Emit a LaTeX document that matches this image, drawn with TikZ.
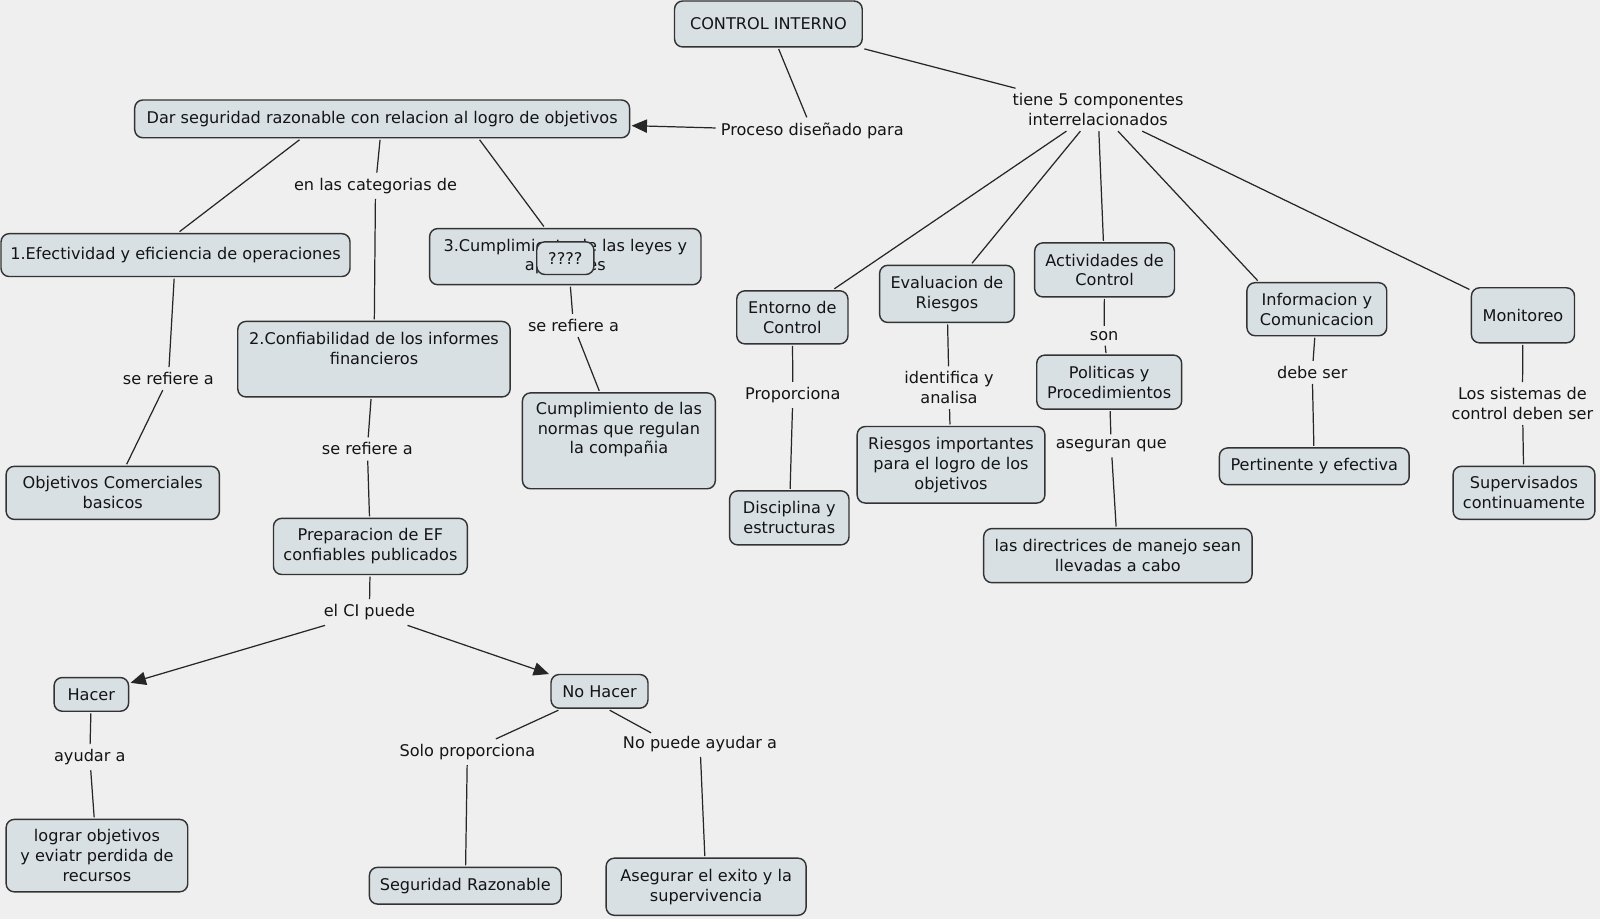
\documentclass[tikz,border=0pt]{standalone}
\usepackage{fontspec}
\setmainfont{DejaVu Sans}
\usetikzlibrary{arrows.meta}
\definecolor{bg}{HTML}{EFEFEF}
\definecolor{boxfill}{HTML}{D8E0E4}
\definecolor{boxline}{HTML}{333333}
\begin{document}
\begin{tikzpicture}[x=1pt,y=-1pt,
  every node/.style={font=\fontsize{15.8}{19.4}\selectfont, text=black!92},
  cbox/.style={draw=boxline, fill=boxfill, line width=1.4pt, rounded corners=8pt, align=center, inner sep=3pt, outer sep=2pt},
  ttxt/.style={align=center, inner sep=0pt},
  lab/.style={align=center, inner sep=5pt},
  conn/.style={draw=black!85, line width=1.2pt},
  arr/.style={conn, -{Triangle[length=15pt,width=13pt]}}
]
\fill[bg] (0,0) rectangle (1568,901);
\useasboundingbox (0,0) rectangle (1568,901);

% ---- boxes ----
\node[cbox, minimum width=184, minimum height=45] (ci) at (753,23.5) {CONTROL INTERNO};
\node[cbox, minimum width=485, minimum height=37] (dar) at (374.5,116.5) {Dar seguridad razonable con relacion al logro de objetivos};
\node[cbox, minimum width=342, minimum height=42] (ef) at (172,250) {1.Efectividad y eficiencia de operaciones};
\node[cbox, minimum width=266, minimum height=55] (cump) at (554,251.5) {3.Cumplimiento de las leyes y\\aplicables};
\node[cbox, minimum width=56, minimum height=32, inner sep=1pt] (q) at (554,253) {????};
\node[cbox, minimum width=267, minimum height=74] (conf) at (366.5,352) {};
\node[ttxt] (conft) at (366.5,341.5) {2.Confiabilidad de los informes\\financieros};
\node[cbox, minimum width=209, minimum height=52] (obj) at (110.5,483) {Objetivos Comerciales\\basicos};
\node[cbox, minimum width=190, minimum height=55] (prep) at (363,535.5) {Preparacion de EF\\confiables publicados};
\node[cbox, minimum width=189, minimum height=94] (norm) at (606.5,432) {};
\node[ttxt] (normt) at (606.5,421) {Cumplimiento de las\\normas que regulan\\la compañia};
\node[cbox, minimum width=73, minimum height=33] (hacer) at (89.5,680.5) {Hacer};
\node[cbox, minimum width=95, minimum height=33] (nohacer) at (587.5,677.5) {No Hacer};
\node[cbox, minimum width=178, minimum height=71] (lograr) at (95,838.5) {lograr objetivos\\y eviatr perdida de\\recursos};
\node[cbox, minimum width=188, minimum height=36] (segraz) at (456,868) {Seguridad Razonable};
\node[cbox, minimum width=196, minimum height=56] (aseg) at (692,869) {Asegurar el exito y la\\supervivencia};

\node[cbox, minimum width=109, minimum height=52] (ent) at (776.5,311) {Entorno de\\Control};
\node[cbox, minimum width=132, minimum height=56] (eval) at (928,288) {Evaluacion de\\Riesgos};
\node[cbox, minimum width=137, minimum height=53] (act) at (1082.5,264.5) {Actividades de\\Control};
\node[cbox, minimum width=137, minimum height=52] (info) at (1290.5,303) {Informacion y\\Comunicacion};
\node[cbox, minimum width=101, minimum height=54] (mon) at (1492.5,309) {Monitoreo};
\node[cbox, minimum width=117, minimum height=53] (disc) at (773.5,507.5) {Disciplina y\\estructuras};
\node[cbox, minimum width=184, minimum height=75] (riesg) at (932,455.5) {Riesgos importantes\\para el logro de los\\objetivos};
\node[cbox, minimum width=142, minimum height=53] (pol) at (1087,374.5) {Politicas y\\Procedimientos};
\node[cbox, minimum width=263, minimum height=53] (dir) at (1095.5,544.5) {las directrices de manejo sean\\llevadas a cabo};
\node[cbox, minimum width=186, minimum height=36] (pert) at (1288,457) {Pertinente y efectiva};
\node[cbox, minimum width=139, minimum height=52] (sup) at (1493.5,483) {Supervisados\\continuamente};

% ---- linking phrases ----
\node[lab] (proc) at (796,128) {Proceso diseñado para};
\node[lab] (tiene) at (1076,107.5) {tiene 5 componentes\\interrelacionados};
\node[lab] (cat) at (368,182) {en las categorias de};
\node[lab] (sr1) at (165,371) {se refiere a};
\node[lab] (sr2) at (360,440) {se refiere a};
\node[lab] (sr3) at (562,319) {se refiere a};
\node[lab] (elci) at (362,600) {el CI puede};
\node[lab] (ayud) at (88,742) {ayudar a};
\node[lab] (solo) at (458,737) {Solo proporciona};
\node[lab] (nopu) at (686,729) {No puede ayudar a};
\node[lab] (prop) at (777,387) {Proporciona};
\node[lab] (ident) at (930,380) {identifica y\\analisa};
\node[lab] (son) at (1082,329) {son};
\node[lab] (asegq) at (1089,437) {aseguran que};
\node[lab] (debe) at (1286,365) {debe ser};
\node[lab] (sist) at (1492,395.5) {Los sistemas de\\control deben ser};

% ---- connectors ----
\draw[conn] (ci) -- (proc);
\draw[conn] (ci) -- (tiene);
\draw[arr] (proc) -- (dar);
\draw[conn] ([xshift=-81]dar.south) -- ([xshift=4]ef.north);
\draw[conn] (dar) -- (cat);
\draw[conn] (cat) -- (conf);
\draw[conn] ([xshift=95.5]dar.south) -- ([xshift=-21]cump.north);
\draw[conn] (ef) -- (sr1);
\draw[conn] (sr1) -- (obj);
\draw[conn] (conf) -- (sr2);
\draw[conn] (sr2) -- (prep);
\draw[conn] ([xshift=5]cump.south) -- (sr3);
\draw[conn] (sr3) -- (norm);
\draw[conn] (prep) -- (elci);
\draw[arr] (elci) -- (hacer);
\draw[arr] (elci) -- (nohacer);
\draw[conn] (hacer) -- (ayud);
\draw[conn] (ayud) -- (lograr);
\draw[conn] (nohacer) -- (solo);
\draw[conn] (solo) -- (segraz);
\draw[conn] ([xshift=10]nohacer.south) -- ([xshift=-48,yshift=-2]nopu.north);
\draw[conn] (nopu) -- (aseg);

\draw[conn] (tiene) -- (ent);
\draw[conn] (tiene) -- (eval);
\draw[conn] (tiene) -- (act);
\draw[conn] (tiene) -- ([xshift=-58]info.north);
\draw[conn] (tiene) -- (mon);
\draw[conn] (ent) -- (prop);
\draw[conn] (prop) -- (disc);
\draw[conn] (eval) -- (ident);
\draw[conn] (ident) -- (riesg);
\draw[conn] (act) -- (son);
\draw[conn] (son) -- (pol);
\draw[conn] (pol) -- (asegq);
\draw[conn] (asegq) -- (dir);
\draw[conn] (info) -- (debe);
\draw[conn] (debe) -- (pert);
\draw[conn] (mon) -- (sist);
\draw[conn] (sist) -- (sup);
\end{tikzpicture}
\end{document}
